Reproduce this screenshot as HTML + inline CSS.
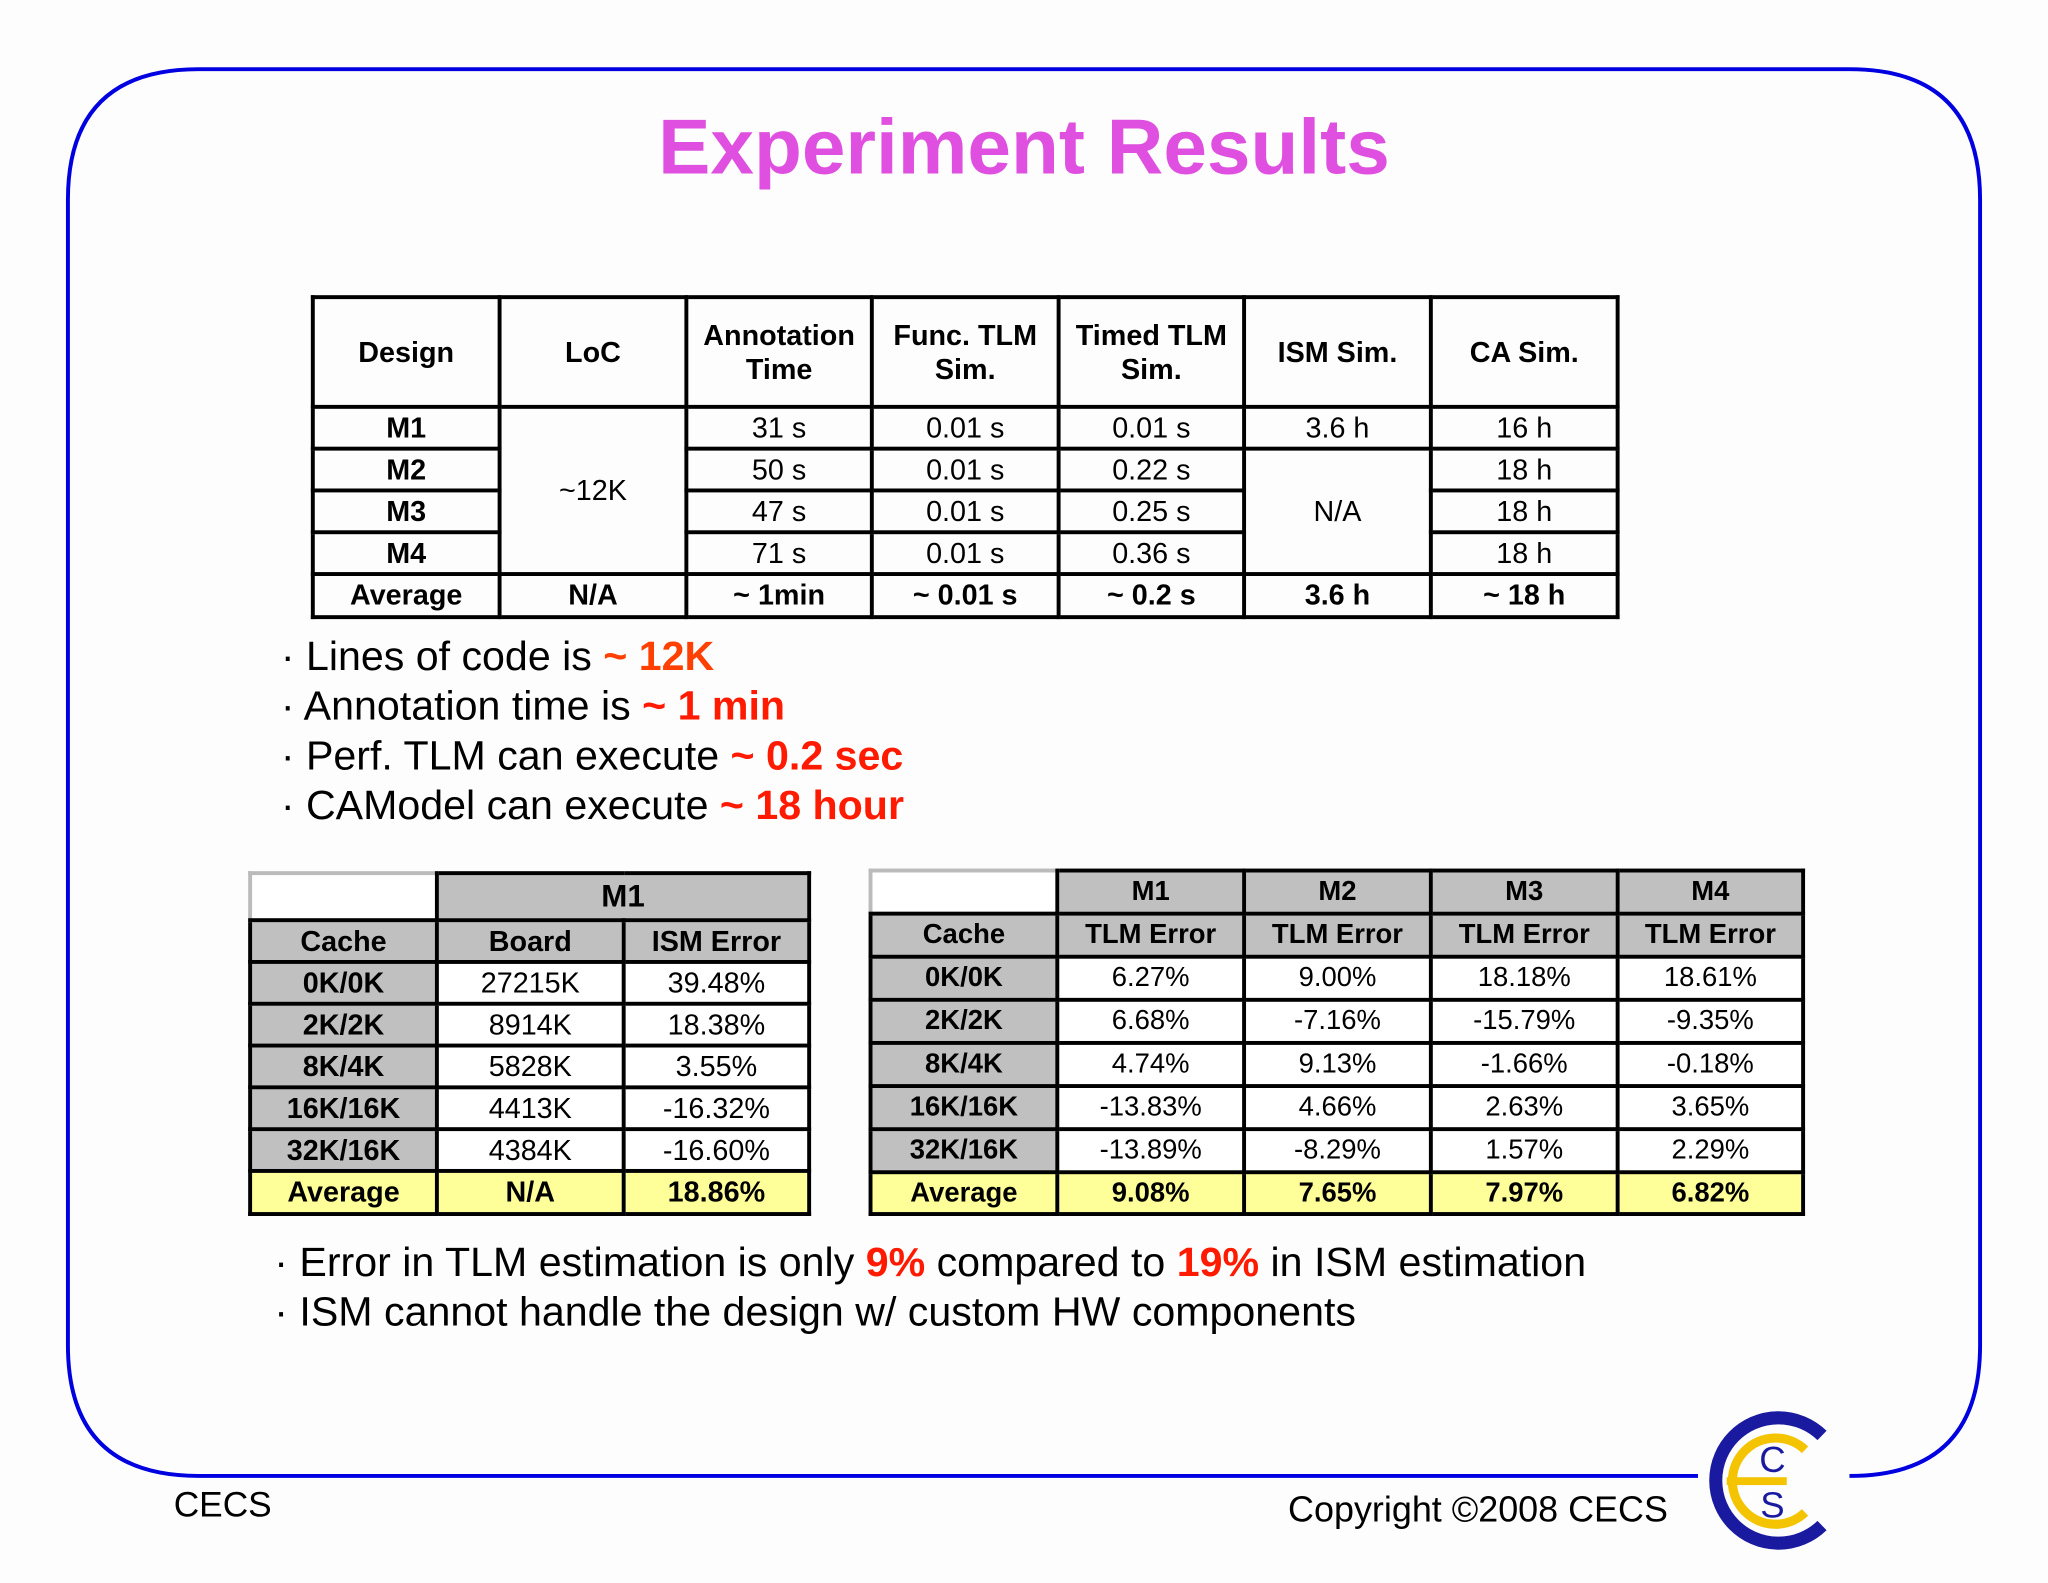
<!DOCTYPE html>
<html><head><meta charset="utf-8">
<style>
html,body{margin:0;padding:0;background:#fdfdfd;}
body{width:2048px;height:1582px;overflow:hidden;position:relative;}
#stage{position:absolute;left:0;top:0;width:1568px;height:1212px;transform:scale(1.30612);transform-origin:0 0;font-family:"Liberation Sans",Arial,sans-serif;}
.abs{position:absolute;}
table{position:absolute;border-collapse:collapse;table-layout:fixed;}
td{border:3px solid #000;text-align:center;padding:0;font-size:22px;color:#000;white-space:nowrap;overflow:hidden;}
.b{font-weight:bold;}
.g{background:#c0c0c0;}
.y{background:#ffff99;font-weight:bold;}
.w{background:#fff;}
.bl{position:absolute;font-size:31.5px;color:#000;white-space:nowrap;}
.r{color:#ff1a00;font-weight:bold;}
.rt td{font-size:21px;}
</style></head><body>
<div id="stage">
<svg class="abs" style="left:0;top:0" width="1568" height="1212">
<path d="M1300 1130 L152 1130 Q52 1130 52 1030 L52 153 Q52 53 152 53 L1416 53 Q1516 53 1516 153 L1516 1030 Q1516 1130 1416 1130" fill="none" stroke="#0000e0" stroke-width="3"/>
</svg>
<div class="abs b" style="left:0;width:1568px;top:78px;text-align:center;font-size:60px;color:#e050e0;">Experiment Results</div>

<table style="left:238px;top:226px;width:999px;">
<colgroup><col style="width:143px"><col style="width:143px"><col style="width:142px"><col style="width:143px"><col style="width:142px"><col style="width:143px"><col style="width:143px"></colgroup>
<tr style="height:84px" class="b"><td>Design</td><td>LoC</td><td>Annotation<br>Time</td><td>Func. TLM<br>Sim.</td><td>Timed TLM<br>Sim.</td><td>ISM Sim.</td><td>CA Sim.</td></tr>
<tr style="height:32px"><td class="b">M1</td><td rowspan="4">~12K</td><td>31 s</td><td>0.01 s</td><td>0.01 s</td><td>3.6 h</td><td>16 h</td></tr>
<tr style="height:32px"><td class="b">M2</td><td>50 s</td><td>0.01 s</td><td>0.22 s</td><td rowspan="3">N/A</td><td>18 h</td></tr>
<tr style="height:32px"><td class="b">M3</td><td>47 s</td><td>0.01 s</td><td>0.25 s</td><td>18 h</td></tr>
<tr style="height:32px"><td class="b">M4</td><td>71 s</td><td>0.01 s</td><td>0.36 s</td><td>18 h</td></tr>
<tr style="height:33px" class="b"><td>Average</td><td>N/A</td><td>~ 1min</td><td>~ 0.01 s</td><td>~ 0.2 s</td><td>3.6 h</td><td>~ 18 h</td></tr>
</table>

<div class="bl" style="left:215px;top:484px;">· Lines of code is <span class="r" style="color:#ff4000">~ 12K</span></div>
<div class="bl" style="left:215px;top:522px;">· Annotation time is <span class="r">~ 1 min</span></div>
<div class="bl" style="left:215px;top:560px;">· Perf. TLM can execute <span class="r">~ 0.2 sec</span></div>
<div class="bl" style="left:215px;top:598px;">· CAModel can execute <span class="r">~ 18 hour</span></div>

<table style="left:190px;top:667px;width:428px;">
<colgroup><col style="width:143px"><col style="width:143px"><col style="width:142px"></colgroup>
<tr style="height:36px"><td class="w" style="border-color:#bbb #000 #000 #bbb"></td><td colspan="2" class="g b" style="font-size:24px">M1</td></tr>
<tr style="height:32px" class="b"><td class="g">Cache</td><td class="g">Board</td><td class="g">ISM Error</td></tr>
<tr style="height:32px"><td class="g b">0K/0K</td><td class="w">27215K</td><td class="w">39.48%</td></tr>
<tr style="height:32px"><td class="g b">2K/2K</td><td class="w">8914K</td><td class="w">18.38%</td></tr>
<tr style="height:32px"><td class="g b">8K/4K</td><td class="w">5828K</td><td class="w">3.55%</td></tr>
<tr style="height:32px"><td class="g b">16K/16K</td><td class="w">4413K</td><td class="w">-16.32%</td></tr>
<tr style="height:32px"><td class="g b">32K/16K</td><td class="w">4384K</td><td class="w">-16.60%</td></tr>
<tr style="height:33px"><td class="y">Average</td><td class="y">N/A</td><td class="y">18.86%</td></tr>
</table>

<table class="rt" style="left:665px;top:665px;width:714px;">
<colgroup><col style="width:143px"><col style="width:143px"><col style="width:143px"><col style="width:143px"><col style="width:142px"></colgroup>
<tr style="height:33px" class="b"><td class="w" style="border-color:#bbb #000 #000 #bbb"></td><td class="g">M1</td><td class="g">M2</td><td class="g">M3</td><td class="g">M4</td></tr>
<tr style="height:33px" class="b"><td class="g">Cache</td><td class="g">TLM Error</td><td class="g">TLM Error</td><td class="g">TLM Error</td><td class="g">TLM Error</td></tr>
<tr style="height:33px"><td class="g b">0K/0K</td><td class="w">6.27%</td><td class="w">9.00%</td><td class="w">18.18%</td><td class="w">18.61%</td></tr>
<tr style="height:33px"><td class="g b">2K/2K</td><td class="w">6.68%</td><td class="w">-7.16%</td><td class="w">-15.79%</td><td class="w">-9.35%</td></tr>
<tr style="height:33px"><td class="g b">8K/4K</td><td class="w">4.74%</td><td class="w">9.13%</td><td class="w">-1.66%</td><td class="w">-0.18%</td></tr>
<tr style="height:33px"><td class="g b">16K/16K</td><td class="w">-13.83%</td><td class="w">4.66%</td><td class="w">2.63%</td><td class="w">3.65%</td></tr>
<tr style="height:33px"><td class="g b">32K/16K</td><td class="w">-13.89%</td><td class="w">-8.29%</td><td class="w">1.57%</td><td class="w">2.29%</td></tr>
<tr style="height:32px"><td class="y">Average</td><td class="y">9.08%</td><td class="y">7.65%</td><td class="y">7.97%</td><td class="y">6.82%</td></tr>
</table>

<div class="bl" style="left:210px;top:948px;">· Error in TLM estimation is only <span class="r">9%</span> compared to <span class="r">19%</span> in ISM estimation</div>
<div class="bl" style="left:210px;top:986px;">· ISM cannot handle the design w/ custom HW components</div>

<div class="abs" style="left:133px;top:1137px;font-size:27px;">CECS</div>
<div class="abs" style="left:880px;width:397px;text-align:right;top:1140px;font-size:27.5px;">Copyright ©2008 CECS</div>

<svg class="abs" style="left:1300px;top:1080px" width="110" height="110" viewBox="0 0 110 110">
<path d="M95 19 A48 48 0 1 0 95 88" fill="none" stroke="#1a1aa0" stroke-width="10"/>
<path d="M82 30 A33 33 0 1 0 82 78" fill="none" stroke="#f5c400" stroke-width="7"/>
<rect x="22" y="51" width="46" height="6" fill="#f5c400"/>
<text x="57" y="47" font-family="Liberation Sans,sans-serif" font-size="28" fill="#1a1aa0" text-anchor="middle">C</text>
<text x="57" y="82" font-family="Liberation Sans,sans-serif" font-size="28" fill="#1a1aa0" text-anchor="middle">S</text>
</svg>
</div>
</body></html>
